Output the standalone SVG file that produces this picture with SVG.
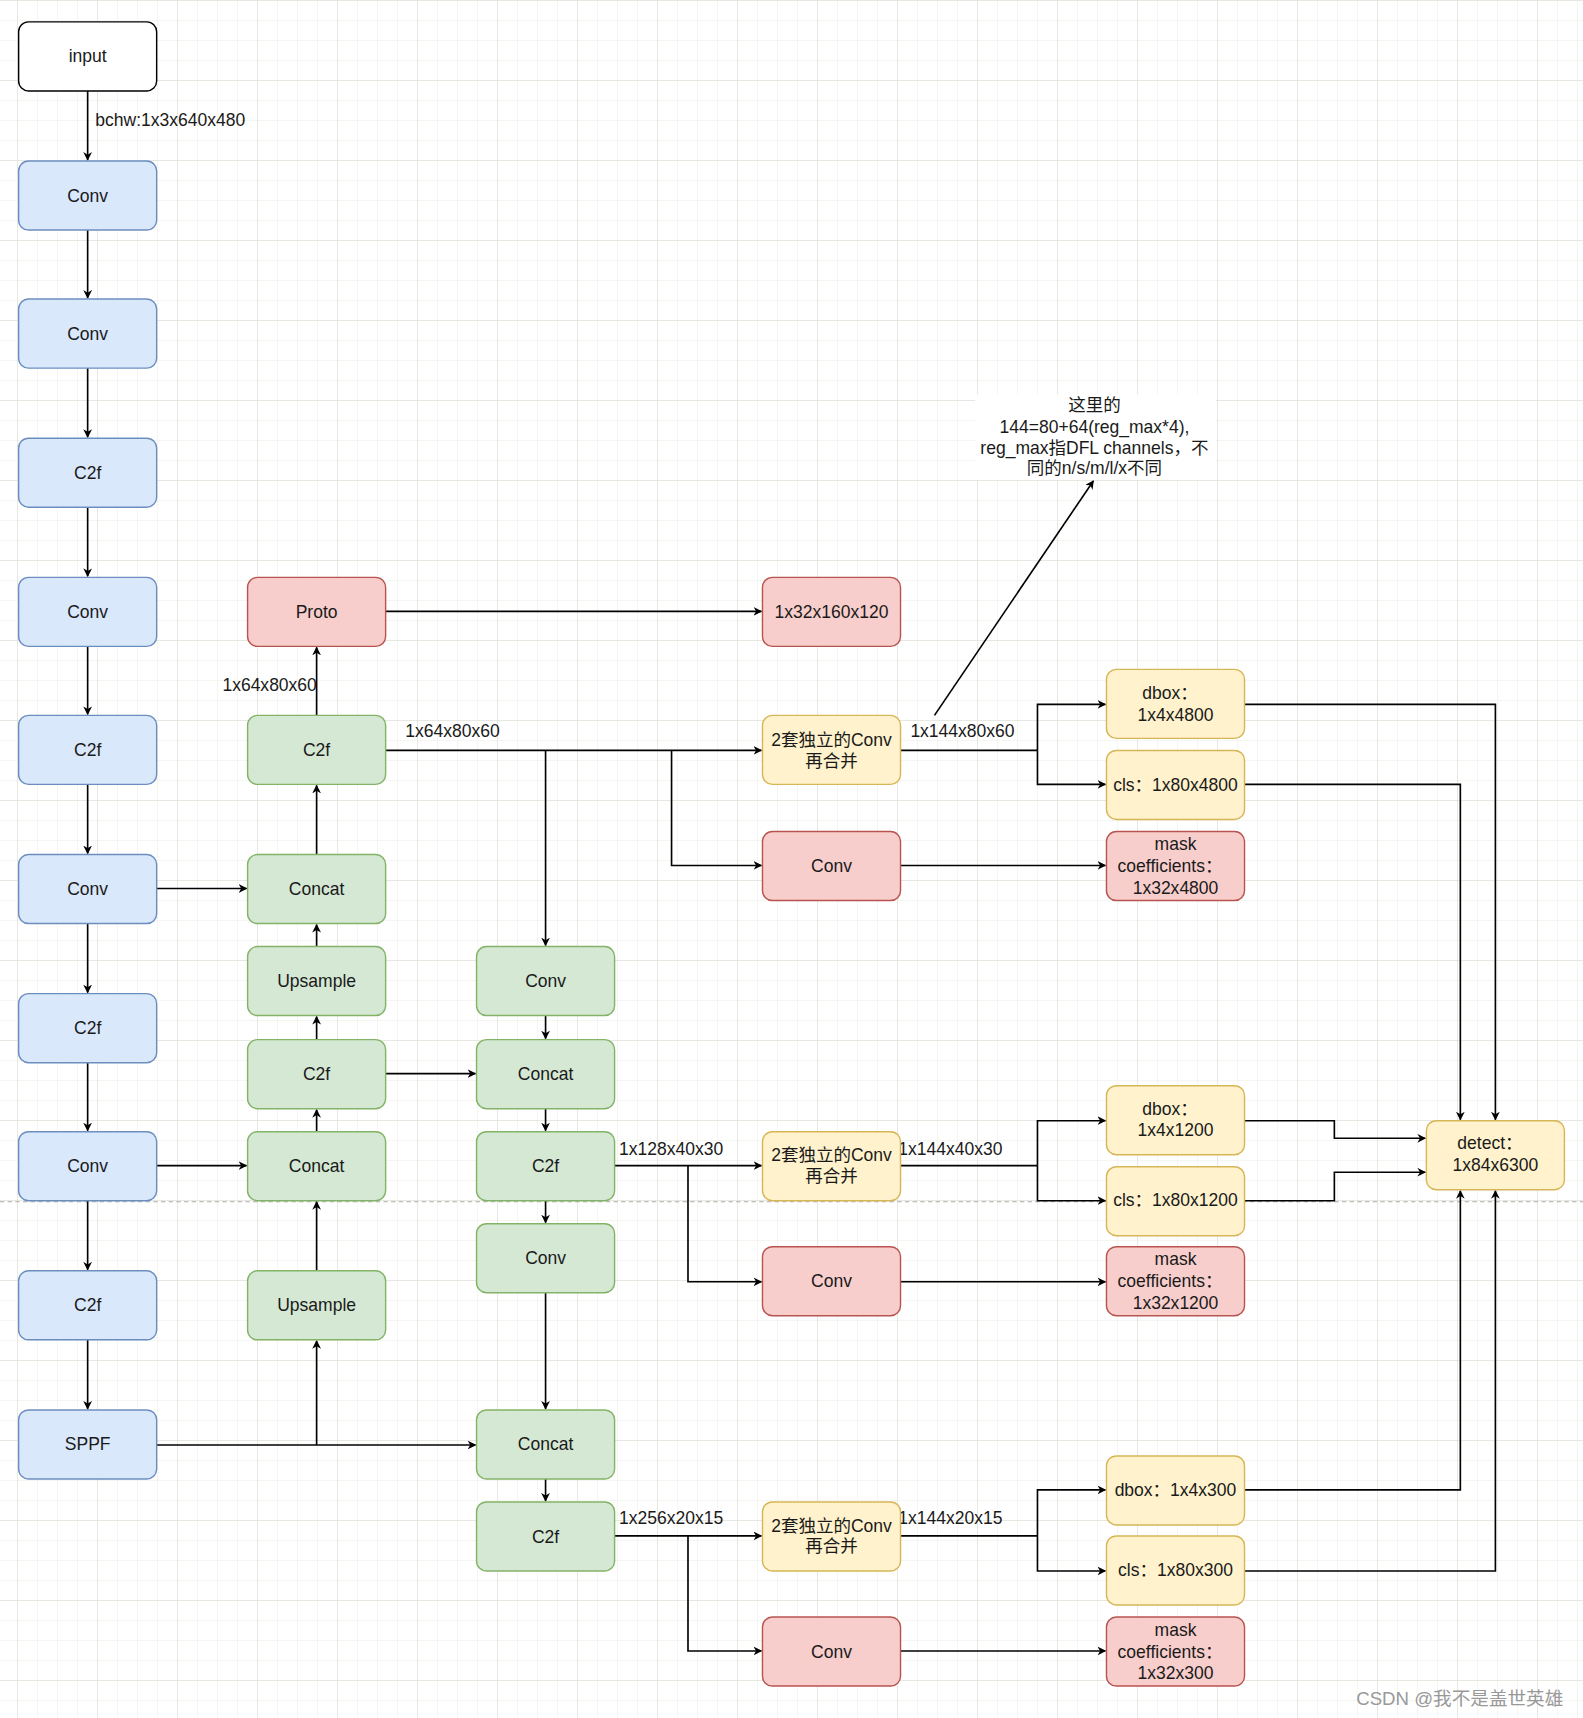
<svg xmlns="http://www.w3.org/2000/svg" width="1583" height="1718" viewBox="0 0 1583 1718">
<defs>
<pattern id="minor" patternUnits="userSpaceOnUse" x="17" y="0" width="20" height="20"><path d="M0 0H20M0 0V20" fill="none" stroke="#ececE6" stroke-width="1"/></pattern>
<pattern id="major" patternUnits="userSpaceOnUse" x="17" y="0" width="80" height="80"><path d="M0 0H80M0 0V80" fill="none" stroke="#dcdcd4" stroke-width="1"/></pattern>
<marker id="ar" viewBox="0 0 10 10" refX="9" refY="5" markerWidth="8" markerHeight="8" orient="auto" markerUnits="userSpaceOnUse"><path d="M0 0L10 5L0 10L3 5Z" fill="#000"/></marker>
<style>
text{font-family:"Liberation Sans","Noto Sans CJK SC",sans-serif;font-size:16px;fill:#1a1a1a}
.c{text-anchor:middle}
.n rect{stroke-width:1.3}
.w rect{fill:#fff;stroke:#000}
.b rect{fill:#dae8fc;stroke:#6c8ebf}
.g rect{fill:#d5e8d4;stroke:#82b366}
.r rect{fill:#f8cecc;stroke:#b85450}
.y rect{fill:#fff2cc;stroke:#d6b656}
#edges path{fill:none;stroke:#000;stroke-width:1.5;marker-end:url(#ar)}
#edges path.nm{marker-end:none}
</style>
</defs>
<rect width="1583" height="1718" fill="#fff"/>
<rect width="1583" height="1718" fill="url(#minor)"/>
<rect width="1583" height="1718" fill="url(#major)"/>
<g transform="scale(1.09553)">
<line x1="0" y1="1097" x2="1445" y2="1097" stroke="#aaa" stroke-width="1" stroke-dasharray="4 3"/>
<rect x="890" y="360" width="220" height="78" fill="#fff"/>
<g id="edges">
<path d="M80 83V146"/>
<path d="M80 210V272"/>
<path d="M80 336V399"/>
<path d="M80 463V526"/>
<path d="M80 590V652"/>
<path d="M80 716V779"/>
<path d="M80 843V906"/>
<path d="M80 970V1032"/>
<path d="M80 1096V1159"/>
<path d="M80 1223V1286"/>
<path d="M143 811H225"/>
<path d="M143 1064H225"/>
<path d="M143 1319H434"/>
<path d="M289 1319V1224"/>
<path d="M289 1160V1097"/>
<path d="M289 1033V1013"/>
<path d="M289 949V928"/>
<path d="M289 864V844"/>
<path d="M289 780V717"/>
<path d="M289 653V591"/>
<path d="M352 558H695"/>
<path d="M352 685H695"/>
<path d="M498 685V863"/>
<path d="M613 685V790H695"/>
<path d="M352 980H434"/>
<path d="M498 927V948"/>
<path d="M498 1012V1032"/>
<path d="M498 1096V1116"/>
<path d="M498 1180V1286"/>
<path d="M498 1350V1370"/>
<path d="M561 1064H695"/>
<path d="M628 1064V1170H695"/>
<path d="M561 1402H695"/>
<path d="M628 1402V1507H695"/>
<path class="nm" d="M822 685H947"/>
<path d="M947 685V643H1009"/>
<path d="M947 685V716H1009"/>
<path d="M853 653L998 439"/>
<path d="M822 790H1009"/>
<path class="nm" d="M822 1064H947"/>
<path d="M947 1064V1023H1009"/>
<path d="M947 1064V1096H1009"/>
<path d="M822 1170H1009"/>
<path class="nm" d="M822 1402H947"/>
<path d="M947 1402V1360H1009"/>
<path d="M947 1402V1434H1009"/>
<path d="M822 1507H1009"/>
<path d="M1136 643H1365V1022"/>
<path d="M1136 716H1333V1022"/>
<path d="M1136 1023H1218V1039H1301"/>
<path d="M1136 1096H1218V1070H1301"/>
<path d="M1136 1360H1333V1087"/>
<path d="M1136 1434H1365V1087"/>
</g>
<g id="labels">
<text x="87" y="115">bchw:1x3x640x480</text>
<text x="203" y="631">1x64x80x60</text>
<text x="370" y="673">1x64x80x60</text>
<text x="831" y="673">1x144x80x60</text>
<text x="565" y="1054">1x128x40x30</text>
<text x="820" y="1054">1x144x40x30</text>
<text x="565" y="1391">1x256x20x15</text>
<text x="820" y="1391">1x144x20x15</text>
<text class="c" x="999" y="375">这里的</text>
<text class="c" x="999" y="395">144=80+64(reg_max*4),</text>
<text class="c" x="999" y="414">reg_max指DFL channels，不</text>
<text class="c" x="999" y="433">同的n/s/m/l/x不同</text>
<text x="1238" y="1556" style="fill:#999;font-size:17px">CSDN @我不是盖世英雄</text>
</g>
<g id="input" class="n w"><rect x="17" y="20" width="126" height="63" rx="9"/><text class="c" x="80" y="57">input</text></g>
<g id="a1" class="n b"><rect x="17" y="147" width="126" height="63" rx="9"/><text class="c" x="80" y="184">Conv</text></g>
<g id="a2" class="n b"><rect x="17" y="273" width="126" height="63" rx="9"/><text class="c" x="80" y="310">Conv</text></g>
<g id="a3" class="n b"><rect x="17" y="400" width="126" height="63" rx="9"/><text class="c" x="80" y="437">C2f</text></g>
<g id="a4" class="n b"><rect x="17" y="527" width="126" height="63" rx="9"/><text class="c" x="80" y="564">Conv</text></g>
<g id="a5" class="n b"><rect x="17" y="653" width="126" height="63" rx="9"/><text class="c" x="80" y="690">C2f</text></g>
<g id="a6" class="n b"><rect x="17" y="780" width="126" height="63" rx="9"/><text class="c" x="80" y="817">Conv</text></g>
<g id="a7" class="n b"><rect x="17" y="907" width="126" height="63" rx="9"/><text class="c" x="80" y="944">C2f</text></g>
<g id="a8" class="n b"><rect x="17" y="1033" width="126" height="63" rx="9"/><text class="c" x="80" y="1070">Conv</text></g>
<g id="a9" class="n b"><rect x="17" y="1160" width="126" height="63" rx="9"/><text class="c" x="80" y="1197">C2f</text></g>
<g id="a10" class="n b"><rect x="17" y="1287" width="126" height="63" rx="9"/><text class="c" x="80" y="1324">SPPF</text></g>
<g id="proto" class="n r"><rect x="226" y="527" width="126" height="63" rx="9"/><text class="c" x="289" y="564">Proto</text></g>
<g id="b1" class="n g"><rect x="226" y="653" width="126" height="63" rx="9"/><text class="c" x="289" y="690">C2f</text></g>
<g id="b2" class="n g"><rect x="226" y="780" width="126" height="63" rx="9"/><text class="c" x="289" y="817">Concat</text></g>
<g id="b3" class="n g"><rect x="226" y="864" width="126" height="63" rx="9"/><text class="c" x="289" y="901">Upsample</text></g>
<g id="b4" class="n g"><rect x="226" y="949" width="126" height="63" rx="9"/><text class="c" x="289" y="986">C2f</text></g>
<g id="b5" class="n g"><rect x="226" y="1033" width="126" height="63" rx="9"/><text class="c" x="289" y="1070">Concat</text></g>
<g id="b6" class="n g"><rect x="226" y="1160" width="126" height="63" rx="9"/><text class="c" x="289" y="1197">Upsample</text></g>
<g id="c1" class="n g"><rect x="435" y="864" width="126" height="63" rx="9"/><text class="c" x="498" y="901">Conv</text></g>
<g id="c2" class="n g"><rect x="435" y="949" width="126" height="63" rx="9"/><text class="c" x="498" y="986">Concat</text></g>
<g id="c3" class="n g"><rect x="435" y="1033" width="126" height="63" rx="9"/><text class="c" x="498" y="1070">C2f</text></g>
<g id="c4" class="n g"><rect x="435" y="1117" width="126" height="63" rx="9"/><text class="c" x="498" y="1154">Conv</text></g>
<g id="c5" class="n g"><rect x="435" y="1287" width="126" height="63" rx="9"/><text class="c" x="498" y="1324">Concat</text></g>
<g id="c6" class="n g"><rect x="435" y="1371" width="126" height="63" rx="9"/><text class="c" x="498" y="1408">C2f</text></g>
<g id="protoout" class="n r"><rect x="696" y="527" width="126" height="63" rx="9"/><text class="c" x="759" y="564">1x32x160x120</text></g>
<g id="d1" class="n y"><rect x="696" y="653" width="126" height="63" rx="9"/><text class="c" x="759" y="681">2套独立的Conv</text><text class="c" x="759" y="700">再合并</text></g>
<g id="d2" class="n r"><rect x="696" y="759" width="126" height="63" rx="9"/><text class="c" x="759" y="796">Conv</text></g>
<g id="d3" class="n y"><rect x="696" y="1033" width="126" height="63" rx="9"/><text class="c" x="759" y="1060">2套独立的Conv</text><text class="c" x="759" y="1079">再合并</text></g>
<g id="d4" class="n r"><rect x="696" y="1138" width="126" height="63" rx="9"/><text class="c" x="759" y="1175">Conv</text></g>
<g id="d5" class="n y"><rect x="696" y="1371" width="126" height="63" rx="9"/><text class="c" x="759" y="1398">2套独立的Conv</text><text class="c" x="759" y="1417">再合并</text></g>
<g id="d6" class="n r"><rect x="696" y="1476" width="126" height="63" rx="9"/><text class="c" x="759" y="1513">Conv</text></g>
<g id="e1" class="n y"><rect x="1010" y="611" width="126" height="63" rx="9"/><text class="c" x="1068" y="638">dbox：</text><text class="c" x="1073" y="658">1x4x4800</text></g>
<g id="e2" class="n y"><rect x="1010" y="685" width="126" height="63" rx="9"/><text class="c" x="1073" y="722">cls：1x80x4800</text></g>
<g id="e3" class="n r"><rect x="1010" y="759" width="126" height="63" rx="9"/><text class="c" x="1073" y="776">mask</text><text class="c" x="1068" y="796">coefficients：</text><text class="c" x="1073" y="816">1x32x4800</text></g>
<g id="e4" class="n y"><rect x="1010" y="991" width="126" height="63" rx="9"/><text class="c" x="1068" y="1018">dbox：</text><text class="c" x="1073" y="1037">1x4x1200</text></g>
<g id="e5" class="n y"><rect x="1010" y="1065" width="126" height="63" rx="9"/><text class="c" x="1073" y="1101">cls：1x80x1200</text></g>
<g id="e6" class="n r"><rect x="1010" y="1138" width="126" height="63" rx="9"/><text class="c" x="1073" y="1155">mask</text><text class="c" x="1068" y="1175">coefficients：</text><text class="c" x="1073" y="1195">1x32x1200</text></g>
<g id="e7" class="n y"><rect x="1010" y="1329" width="126" height="63" rx="9"/><text class="c" x="1073" y="1366">dbox：1x4x300</text></g>
<g id="e8" class="n y"><rect x="1010" y="1402" width="126" height="63" rx="9"/><text class="c" x="1073" y="1439">cls：1x80x300</text></g>
<g id="e9" class="n r"><rect x="1010" y="1476" width="126" height="63" rx="9"/><text class="c" x="1073" y="1493">mask</text><text class="c" x="1068" y="1513">coefficients：</text><text class="c" x="1073" y="1533">1x32x300</text></g>
<g id="detect" class="n y"><rect x="1302" y="1023" width="126" height="63" rx="9"/><text class="c" x="1360" y="1049">detect：</text><text class="c" x="1365" y="1069">1x84x6300</text></g>
</g>
</svg>
